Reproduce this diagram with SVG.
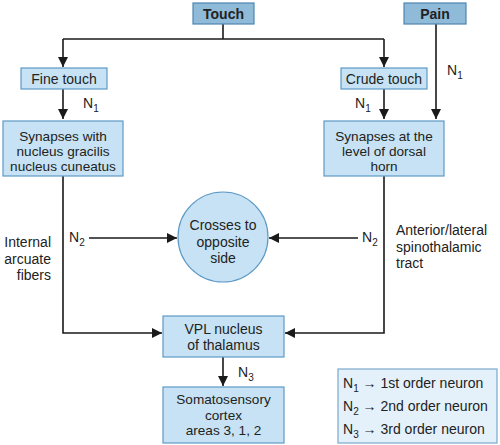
<svg xmlns="http://www.w3.org/2000/svg" width="500" height="445" viewBox="0 0 500 445">
<defs>
<marker id="ah" viewBox="0 0 10 10" refX="10" refY="5" markerWidth="10" markerHeight="10" markerUnits="userSpaceOnUse" orient="auto">
<path d="M0,0 L10,5 L0,10 Z" fill="#1a1a1a"/>
</marker>
<style>
text{font-family:"Liberation Sans",Arial,sans-serif;font-size:14px;fill:#222}
.c{text-anchor:middle}
.b{font-weight:bold}
.m{font-size:13.6px}
.top{fill:#8fbad8;stroke:#4f86b3;stroke-width:1.2}
.box{fill:#c6e2f4;stroke:#5f9ac6;stroke-width:1.2}
.leg{fill:#e4f1fa;stroke:#7aa9cc;stroke-width:1.2}
.ln{fill:none;stroke:#1a1a1a;stroke-width:1.6}
.s{font-size:10px}
</style>
</defs>
<rect width="500" height="445" fill="#ffffff"/>
<g id="connectors">
<path class="ln" d="M223,24 V39"/>
<path class="ln" d="M63,39 H384"/>
<path class="ln" d="M63,39 V67" marker-end="url(#ah)"/>
<path class="ln" d="M384,39 V67" marker-end="url(#ah)"/>
<path class="ln" d="M63,89 V119" marker-end="url(#ah)"/>
<path class="ln" d="M384,89 V119" marker-end="url(#ah)"/>
<path class="ln" d="M436,24 V119" marker-end="url(#ah)"/>
<path class="ln" d="M63,176 V333 H162" marker-end="url(#ah)"/>
<path class="ln" d="M384,176 V333 H285" marker-end="url(#ah)"/>
<path class="ln" d="M89,238 H177" marker-end="url(#ah)"/>
<path class="ln" d="M358,238 H269" marker-end="url(#ah)"/>
<path class="ln" d="M223,357 V386" marker-end="url(#ah)"/>
<text x="83" y="108">N<tspan class="s" dy="4">1</tspan></text>
<text x="355" y="108">N<tspan class="s" dy="4">1</tspan></text>
<text x="447" y="75">N<tspan class="s" dy="4">1</tspan></text>
<text x="69" y="242">N<tspan class="s" dy="4">2</tspan></text>
<text x="362" y="242">N<tspan class="s" dy="4">2</tspan></text>
<text x="238" y="377">N<tspan class="s" dy="4">3</tspan></text>
<text x="51" y="247" text-anchor="end">Internal</text>
<text x="51" y="264" text-anchor="end">arcuate</text>
<text x="51" y="280" text-anchor="end">fibers</text>
<text x="396" y="235">Anterior/lateral</text>
<text x="396" y="252">spinothalamic</text>
<text x="396" y="268">tract</text>
</g>
<g id="touch">
<rect class="top" x="193" y="3" width="61" height="21"/>
<text class="c b" x="223.5" y="19">Touch</text>
</g>
<g id="pain">
<rect class="top" x="404" y="3" width="62" height="21"/>
<text class="c b" x="435" y="19">Pain</text>
</g>
<g id="fine-touch">
<rect class="box" x="21" y="68" width="86" height="21"/>
<text class="c" x="64" y="84">Fine touch</text>
</g>
<g id="crude-touch">
<rect class="box" x="341" y="68" width="86" height="21"/>
<text class="c" x="384" y="84">Crude touch</text>
</g>
<g id="synapses-left">
<rect class="box" x="3" y="121" width="120" height="55"/>
<text class="c m" x="63" y="140.5">Synapses with</text>
<text class="c m" x="63" y="156">nucleus gracilis</text>
<text class="c m" x="63" y="171">nucleus cuneatus</text>
</g>
<g id="synapses-right">
<rect class="box" x="324" y="121" width="120" height="55"/>
<text class="c m" x="384" y="140.5">Synapses at the</text>
<text class="c m" x="384" y="156">level of dorsal</text>
<text class="c m" x="384" y="171">horn</text>
</g>
<g id="crosses">
<circle class="box" cx="223" cy="237" r="45"/>
<text class="c" x="223" y="230">Crosses to</text>
<text class="c" x="223" y="247">opposite</text>
<text class="c" x="223" y="263">side</text>
</g>
<g id="vpl">
<rect class="box" x="163" y="316" width="121" height="41"/>
<text class="c" x="223.5" y="334">VPL nucleus</text>
<text class="c" x="223.5" y="350">of thalamus</text>
</g>
<g id="cortex">
<rect class="box" x="163" y="387" width="121" height="56"/>
<text class="c m" x="223.5" y="404">Somatosensory</text>
<text class="c m" x="223.5" y="419.5">cortex</text>
<text class="c m" x="223.5" y="435">areas 3, 1, 2</text>
</g>
<g id="legend">
<rect class="leg" x="338" y="369" width="159" height="74"/>
<text x="343" y="388">N<tspan class="s" dy="4">1</tspan><tspan dy="-4"> → 1st order neuron</tspan></text>
<text x="343" y="411">N<tspan class="s" dy="4">2</tspan><tspan dy="-4"> → 2nd order neuron</tspan></text>
<text x="343" y="434">N<tspan class="s" dy="4">3</tspan><tspan dy="-4"> → 3rd order neuron</tspan></text>
</g>
</svg>
